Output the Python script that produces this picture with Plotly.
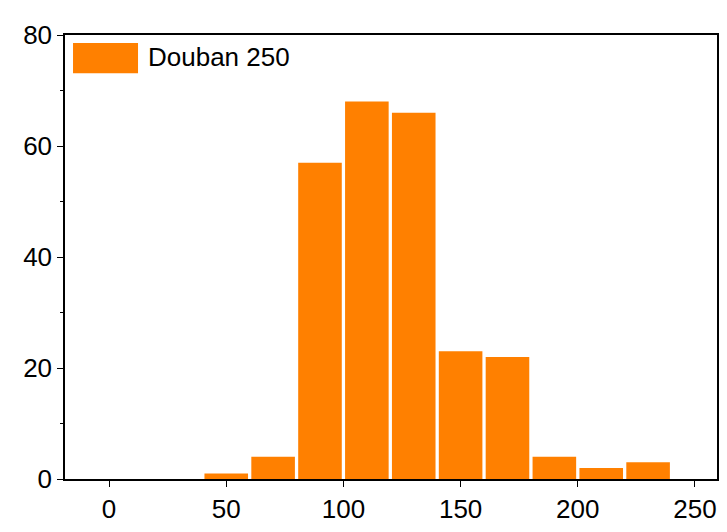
import plotly.graph_objects as go

bin_centers = [50, 70, 90, 110, 130, 150, 170, 190, 210, 230]
counts = [1, 4, 57, 68, 66, 23, 22, 4, 2, 3]
series_name = "Douban 250"
x_ticks = [0, 50, 100, 150, 200, 250]
y_ticks = [0, 20, 40, 60, 80]

orange = "#FF8000"
fig = go.Figure(go.Bar(x=bin_centers, y=counts, width=18.6, marker=dict(color=orange, line=dict(width=0)),
                       name=series_name, showlegend=False))
axis_common = dict(showgrid=False, zeroline=False, showline=True, linecolor="black", linewidth=1.5,
                   mirror=True, ticks="outside", ticklen=6, tickcolor="black", automargin=False,
                   tickfont=dict(family="Liberation Sans, Arial", size=26, color="black"))
fig.update_xaxes(range=[-18.8, 259.4], tickvals=x_ticks, **axis_common)
fig.update_yaxes(range=[0, 80], tickvals=y_ticks,
                 minor=dict(tickvals=[10, 30, 50, 70], ticks="outside", ticklen=3, tickcolor="black"),
                 **axis_common)
fig.add_shape(type="rect", xref="paper", yref="paper", x0=0.0123, x1=0.112, y0=0.914, y1=0.982,
              fillcolor=orange, line=dict(width=0))
fig.add_annotation(xref="paper", yref="paper", x=0.124, y=0.950, xanchor="left", yanchor="middle",
                   text=series_name, showarrow=False,
                   font=dict(family="Liberation Sans, Arial", size=26, color="black"))
fig.update_layout(width=727, height=532, margin=dict(l=57, r=18, t=27, b=61, autoexpand=False),
                  plot_bgcolor="white", paper_bgcolor="white")
fig.write_html("out.html")
